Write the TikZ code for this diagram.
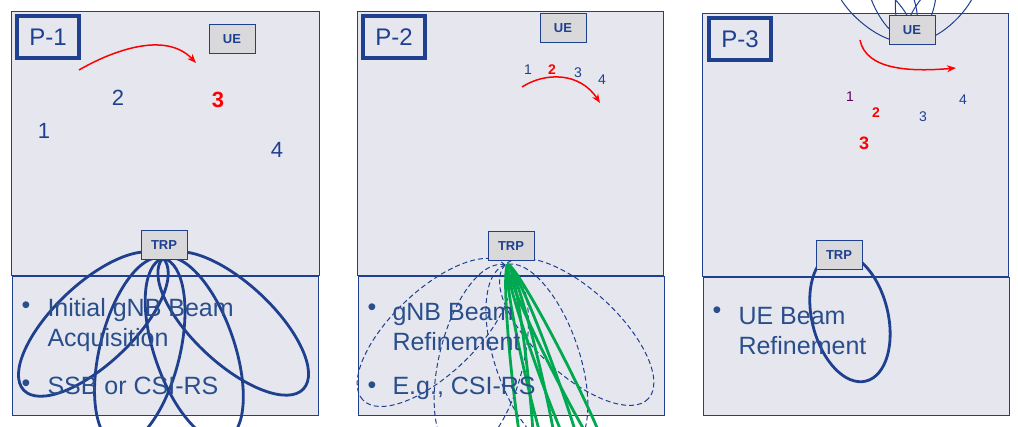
\documentclass[tikz,border=0pt]{standalone}
\usepackage{fontspec}
\setmainfont{Liberation Sans}
\usetikzlibrary{arrows.meta}
\begin{document}
\begin{tikzpicture}[x=1pt,y=-1pt,
  panel/.style={draw=bl,fill=bgc,line width=1pt},
  plabel/.style={draw=bl,line width=3.5pt,fill=bgc,text=bl,font=\fontsize{24}{24}\selectfont,minimum width=62pt,minimum height=42pt},
  dev/.style={draw=bl,fill=devc,text=bl,font=\bfseries\fontsize{13}{13}\selectfont,minimum width=46pt,minimum height=29pt,inner sep=0pt,line width=0.8pt},
  beam/.style={draw=bl,line width=2.8pt},
  thin/.style={draw=bl,line width=1pt},
  dbeam/.style={draw=bl,line width=1pt,dash pattern=on 5pt off 3pt},
  gbeam/.style={draw=gr,line width=2.8pt},
  big/.style={text=bl,font=\fontsize{22}{22}\selectfont},
  small/.style={text=bl,font=\fontsize{14}{14}\selectfont},
  ra/.style={draw=red,line width=1.5pt,-{Stealth[length=9pt,width=7pt]}},
  bullet/.style={text=tc,font=\fontsize{25}{30}\selectfont,anchor=west,align=left}]
\definecolor{bl}{HTML}{1F3F8F}
\definecolor{bgc}{HTML}{E6E7EE}
\definecolor{devc}{HTML}{D9D9DC}
\definecolor{gr}{HTML}{00A94F}
\definecolor{tc}{HTML}{2A4E8C}
\useasboundingbox (0,0) rectangle (1018,426);
\fill[white] (0,0) rectangle (1018,426);
% panels
\path[panel] (11,11) rectangle (319,275);
\path[panel] (12,276) rectangle (318,415);
\path[panel] (357,11) rectangle (663,275);
\path[panel] (358,276) rectangle (664,415);
\path[panel] (702,13) rectangle (1008,276);
\path[panel] (703,277) rectangle (1009,415);
% ---------- P-1
\foreach \a in {136.5,104,71,43}
  \draw[beam,shift={(163,258)},rotate=-\a] (96,0) ellipse [x radius=96,y radius=40];
\node[plabel] (p1) at (48,37) {P-1};
\node[dev] (ue1) at (232,39) {UE};
\node[dev] (trp1) at (164,245) {TRP};
\node[big] (l11) at (44,131) {1};
\node[big] (l12) at (118,98) {2};
\node[big,text=red,font=\bfseries\fontsize{22}{22}\selectfont] (l13) at (218,100) {3};
\node[big] (l14) at (277,150) {4};
\coordinate (a1s) at (79,70); \coordinate (a1e) at (196,63);
\draw[ra] (a1s) .. controls (110,52) and (165,30) .. (a1e);
% ---------- P-2
\foreach \a in {136.5,104,71,43}
  \draw[dbeam,shift={(505,265)},rotate=-\a] (98,0) ellipse [x radius=98,y radius=42];
\foreach \tx/\ty in {532/43,559/45,586/50,610/63}{
  \pgfmathsetmacro{\ang}{atan2(265-\ty,\tx-508)}
  \pgfmathsetmacro{\len}{veclen(\tx-508,265-\ty)/2}
  \draw[gbeam,shift={(508,265)},rotate=-\ang] (\len,0) ellipse [x radius=\len,y radius=8];
}
\node[plabel] (p2) at (394,37) {P-2};
\node[dev] (ue2) at (563,28) {UE};
\node[dev] (trp2) at (511,246) {TRP};
\node[small] (l21) at (528,70) {1};
\node[small,text=red,font=\bfseries\fontsize{14}{14}\selectfont] (l22) at (552,70) {2};
\node[small] (l23) at (578,73) {3};
\node[small] (l24) at (602,80) {4};
\coordinate (a2s) at (522,87); \coordinate (a2e) at (600,103);
\draw[ra] (a2s) .. controls (545,72) and (580,72) .. (a2e);
% ---------- P-3
\draw[beam,shift={(834,253)},rotate=-76] (66,0) ellipse [x radius=66,y radius=38];
\foreach \tx/\ty in {837/103,873/124,922/126,975/106}{
  \pgfmathsetmacro{\ang}{atan2(40-\ty,\tx-910)}
  \pgfmathsetmacro{\len}{veclen(\tx-910,\ty-40)/2}
  \draw[thin,shift={(910,38)},rotate=-\ang] (\len,0) ellipse [x radius=\len,y radius=20];
}
\node[plabel] (p3) at (740,39) {P-3};
\node[dev] (ue3) at (912,30) {UE};
\node[dev] (trp3) at (839,255) {TRP};
\node[small,text=violet!70!black] (l31) at (850,97) {1};
\node[small,text=red,font=\bfseries\fontsize{14}{14}\selectfont] (l32) at (876,113) {2};
\node[small] (l33) at (923,117) {3};
\node[small] (l34) at (963,100) {4};
\node[big,text=red,font=\bfseries\fontsize{18}{18}\selectfont] (l35) at (864,143) {3};
\coordinate (a3s) at (860,40); \coordinate (a3e) at (956,68);
\draw[ra] (a3s) .. controls (866,70) and (910,72) .. (a3e);
% ---------- texts
\node[bullet] (b11) at (18,308) {•};
\node[bullet] (t11) at (44,325) {Initial gNB Beam\\Acquisition};
\node[bullet] (b12) at (18,386) {•};
\node[bullet] (t12) at (44,386) {SSB or CSI-RS};
\node[bullet] (b21) at (364,310) {•};
\node[bullet] (t21) at (389,327) {gNB Beam\\Refinement};
\node[bullet] (b22) at (364,388) {•};
\node[bullet] (t22) at (389,388) {E.g., CSI-RS};
\node[bullet] (b31) at (709,313) {•};
\node[bullet] (t31) at (735,331) {UE Beam\\Refinement};
\end{tikzpicture}
\end{document}
